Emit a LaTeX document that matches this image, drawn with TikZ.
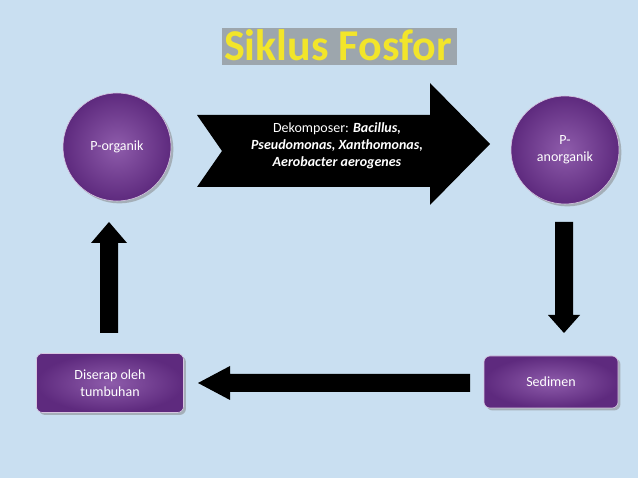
\documentclass[tikz,border=0pt]{standalone}
\usepackage{fontspec}
\setmainfont{Carlito}
\usetikzlibrary{shadows}
\definecolor{bg}{HTML}{C9DFF1}
\definecolor{pur}{HTML}{7A3F9C}
\definecolor{purd}{HTML}{5E2A7E}
\definecolor{ttl}{HTML}{F2E52A}
\tikzset{
  circ/.style={circle,minimum size=108pt,inner sep=0pt,text=white,font=\fontsize{14}{17}\selectfont,align=center,
    inner color=pur!85!white,outer color=purd,draw=white!70!pur,line width=0.6pt,drop shadow},
  box/.style={rounded corners=6pt,text=white,font=\fontsize{14}{17}\selectfont,align=center,
    inner color=pur!85!white,outer color=purd,draw=white!70!pur,line width=0.6pt,drop shadow},
  arr/.style={fill=black,draw=none},
  ttlfont/.style={font=\fontsize{44}{48}\selectfont\bfseries}
}
\begin{document}
\begin{tikzpicture}[x=1pt,y=-1pt]
\fill[bg] (0,0) rectangle (638,478);
\useasboundingbox (0,0) rectangle (638,478);
\node[ttlfont,text=ttl,drop shadow={shadow xshift=1.5pt,shadow yshift=-1.5pt,opacity=0.6}] (title) at (338,45) {Siklus Fosfor};
\node[circ] (po) at (117,147) {P-organik};
\node[circ] (pa) at (565,150) {P-\\anorganik};
\node[box,minimum width=134pt,minimum height=52pt] (sed) at (551,382) {Sedimen};
\node[box,minimum width=147pt,minimum height=59pt] (dis) at (110,383) {Diserap oleh\\tumbuhan};
% big arrow
\fill[arr] (197,115) -- (430,115) -- (430,83) -- (490,144) -- (430,205) -- (430,187) -- (197,187) -- (222,151) -- cycle;
\node[text=white,align=center,font=\fontsize{14}{17}\selectfont] (lbl) at (337,146) {Dekomposer: \textbf{\textit{Bacillus,}}\\\textbf{\textit{Pseudomonas, Xanthomonas,}}\\\textbf{\textit{Aerobacter aerogenes}}};
% down arrow
\fill[arr] (555,222) -- (573,222) -- (573,315) -- (580,315) -- (564,333) -- (548,315) -- (555,315) -- cycle;
% left arrow
\fill[arr] (470,374) -- (230,374) -- (230,366) -- (198,383) -- (230,400) -- (230,392) -- (470,392) -- cycle;
% up arrow
\fill[arr] (100,333) -- (118,333) -- (118,243) -- (127,243) -- (109,222) -- (91,243) -- (100,243) -- cycle;
\end{tikzpicture}
\end{document}
